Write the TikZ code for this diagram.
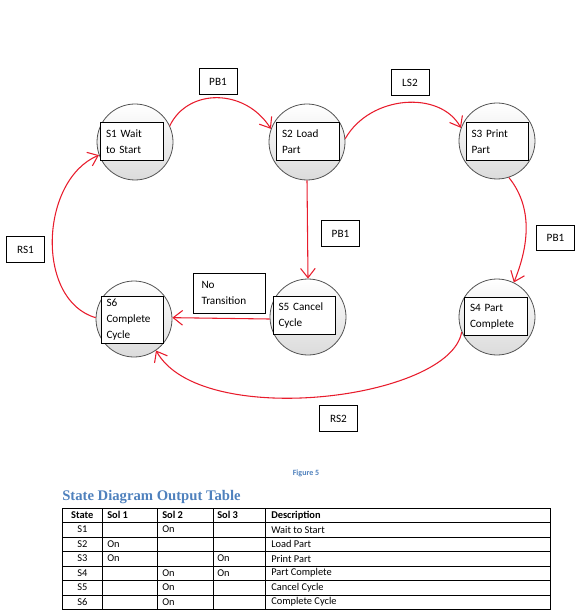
\documentclass[tikz,border=0pt]{standalone}
\usepackage{fontspec}
\setmainfont{Carlito}
\newfontfamily\headfont{Liberation Serif}
\usetikzlibrary{arrows.meta}

\definecolor{wordblue}{RGB}{79,129,189}
\definecolor{penred}{RGB}{232,28,44}

\tikzset{
  state/.style={circle, draw=gray!65!black, line width=0.6pt, minimum size=57pt,
    top color=white, middle color=white, bottom color=gray!28, inner sep=0pt},
  statebox/.style={draw, fill=white, line width=0.75pt, align=left, text width=39pt,
    minimum height=29pt, inner xsep=4pt, inner ysep=2pt,
    font=\fontsize{8.4}{12}\selectfont},
  inbox/.style={draw, line width=0.75pt, minimum width=28.5pt, minimum height=19pt,
    font=\fontsize{8.4}{12}\selectfont},
  pen/.style={penred, line width=0.8pt, -{Straight Barb[length=7pt,width=11pt]}},
  cell/.style={font=\fontsize{7.8}{9}\selectfont, inner sep=0pt, anchor=west},
  headcell/.style={cell, font=\bfseries\fontsize{7.8}{9}\selectfont},
}

\begin{document}
\begin{tikzpicture}[x=0.75pt,y=-0.75pt]
  \useasboundingbox (0,0) rectangle (580,616);

  % states
  \node[state] (s1) at (135,142) {};
  \node[state] (s2) at (307,142) {};
  \node[state] (s3) at (497,141) {};
  \node[state] (s4) at (497,317) {};
  \node[state] (s5) at (308,317) {};
  \node[state] (s6) at (134,319) {};

  \node[statebox] (b1) at (132,141.5) {S1 Wait\\to Start};
  \node[statebox] (b2) at (308,141.5) {S2 Load\\Part};
  \node[statebox] (b3) at (497.5,141.5) {S3 Print\\Part};
  \node[statebox] (b4) at (496,316.5) {S4 Part\\Complete};
  \node[statebox] (b5) at (304.5,315.5) {S5 Cancel\\Cycle};
  \node[statebox] (b6) at (132.5,320) {S6\\Complete\\Cycle};

  % inputs
  \node[inbox] (pb1a) at (218,81.5) {PB1};
  \node[inbox] (ls2) at (410,82.5) {LS2};
  \node[inbox] (pb1b) at (340.5,233.5) {PB1};
  \node[inbox] (pb1c) at (555.5,238) {PB1};
  \node[inbox] (rs1) at (25.5,249.5) {RS1};
  \node[inbox] (rs2) at (338.5,418.5) {RS2};
  \node[draw, line width=0.75pt, align=left, text width=42pt, minimum height=30pt,
    inner xsep=6pt, font=\fontsize{8.4}{12}\selectfont] (notr) at (229.5,293) {No\\Transition};

  % transitions
  \draw[pen] (s1.25) .. controls (188,88) and (245,88) .. (s2.160);
  \draw[pen] (s2.5) .. controls (370,95) and (440,90) .. (s3.160);
  \draw[pen] (s3.-72) .. controls (535,210) and (527,250) .. (s4.64);
  \draw[pen] (s2.south) -- (s5.north);
  \draw[pen] (s5.183) -- (s6.2);
  \draw[pen] (s4.203) .. controls (450,400) and (200,430) .. (s6.-55);
  \draw[pen] (s6.178) .. controls (35,300) and (40,180) .. (s1.200);

  % caption and table
  \node[text=wordblue, font=\bfseries\fontsize{6}{7}\selectfont] (fig) at (306,473) {Figure 5};
  \node[anchor=west, inner sep=0pt, text=wordblue,
    font=\headfont\bfseries\fontsize{11}{13}\selectfont] (title) at (62,497) {State Diagram Output Table};

  \draw[line width=0.75pt] (62,508) rectangle (550,609);
  \foreach \yy in {522.5,537,551.3,566,580.5,595}
    \draw[line width=0.75pt] (62,\yy) -- (550,\yy);
  \foreach \xx in {102.7,157.7,213,265.8}
    \draw[line width=0.75pt] (\xx,508) -- (\xx,609);

  \node[headcell, anchor=center] (h0) at (82.3,515.2) {State};
  \node[headcell] (h1) at (107,515.2) {Sol 1};
  \node[headcell] (h2) at (162,515.2) {Sol 2};
  \node[headcell] (h3) at (217,515.2) {Sol 3};
  \node[headcell] (h4) at (271,515.2) {Description};

  \foreach \st/\sa/\sb/\sc/\desc [count=\r] in
    {S1/{}/On/{}/Wait to Start, S2/On/{}/{}/Load Part, S3/On/{}/On/Print Part,
     S4/{}/On/On/Part Complete, S5/{}/On/{}/Cancel Cycle, S6/{}/On/{}/Complete Cycle}
  {
    \node[cell, anchor=center] (c\r-0) at (82.3,515.2+14.43*\r) {\st};
    \node[cell] (c\r-1) at (107,515.2+14.43*\r) {\sa};
    \node[cell] (c\r-2) at (162,515.2+14.43*\r) {\sb};
    \node[cell] (c\r-3) at (217,515.2+14.43*\r) {\sc};
    \node[cell] (c\r-4) at (271,515.2+14.43*\r) {\desc};
  }
\end{tikzpicture}
\end{document}
